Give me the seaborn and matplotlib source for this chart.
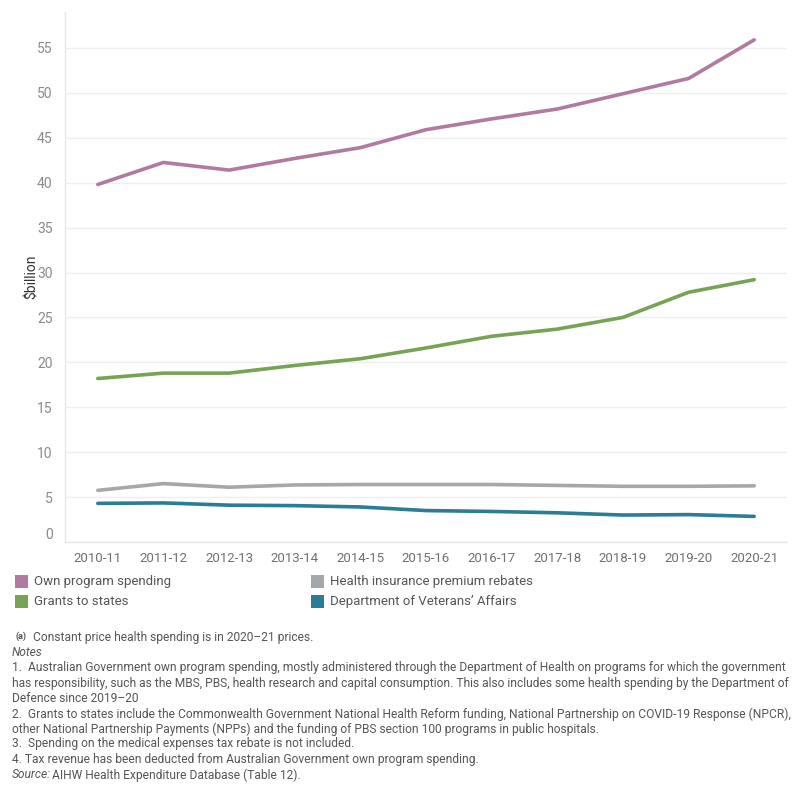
import matplotlib
matplotlib.use("Agg")
import matplotlib.pyplot as plt
from matplotlib.patches import Rectangle
import seaborn as sns
import pandas as pd
import numpy as np

years = ["2010-11", "2011-12", "2012-13", "2013-14", "2014-15", "2015-16",
         "2016-17", "2017-18", "2018-19", "2019-20", "2020-21"]
own_program = [39.8, 42.25, 41.4, 42.7, 43.9, 45.9, 47.1, 48.2, 49.9, 51.6, 55.9]
grants_states = [18.2, 18.8, 18.8, 19.65, 20.4, 21.6, 22.9, 23.7, 25.0, 27.8, 29.2]
health_ins = [5.75, 6.5, 6.1, 6.35, 6.4, 6.4, 6.4, 6.3, 6.2, 6.2, 6.25]
dva = [4.3, 4.35, 4.1, 4.05, 3.9, 3.5, 3.4, 3.25, 3.0, 3.05, 2.85]

series_names = ["Own program spending", "Grants to states",
                "Health insurance premium rebates", "Department of Veterans\u2019 Affairs"]
series_values = [own_program, grants_states, health_ins, dva]
colors = ["#b07aa1", "#78a354", "#a5a8aa", "#2a7d94"]
yticks = list(range(0, 60, 5))

sns.set_theme(style="white")
plt.rcParams['font.family'] = ['Roboto', 'DejaVu Sans']

rows = []
for name, vals in zip(series_names, series_values):
    for i, (yr, v) in enumerate(zip(years, vals)):
        rows.append({"idx": i, "year": yr, "value": v, "series": name})
df = pd.DataFrame(rows)

fig = plt.figure(figsize=(8, 8), dpi=100)
ax = fig.add_axes([65/800, 1 - 542/800, (787-65)/800, (542-12)/800])

sns.lineplot(data=df, x="idx", y="value", hue="series", hue_order=series_names,
             palette=colors, linewidth=2.6, ax=ax, legend=False, sort=False)

ax.set_xlim(-0.5, 10.5)
ax.set_ylim(0, 59)
ax.set_yticks(yticks)
ylabels = ax.set_yticklabels([str(t) for t in yticks], color="#8a8a8a", fontsize=10)
ylabels[0].set_va("bottom")
ax.set_xticks(range(len(years)))
ax.set_xticklabels(years, color="#707070", fontsize=9.5)
ax.set_xticks(np.arange(-0.5, 11, 1), minor=True)
ax.tick_params(axis="x", which="major", length=0, pad=7)
ax.tick_params(axis="x", which="minor", length=6, color="#e6e6e6", width=1)
ax.tick_params(axis="y", length=0, pad=9)
ax.grid(axis="y", color="#efefef", linewidth=1)
ax.set_axisbelow(True)
for s in ["top", "right"]:
    ax.spines[s].set_visible(False)
for s in ["left", "bottom"]:
    ax.spines[s].set_color("#e6e6e6")
    ax.spines[s].set_linewidth(1)
ax.set_xlabel("")
ax.set_ylabel("$billion", fontsize=10, color="#333333")
ax.yaxis.set_label_coords(-0.037, 0.5)

# Legend
leg_pos = [(15, 575), (15, 595), (311, 575), (311, 595)]
for (lx, ly), name, c in zip(leg_pos, series_names, colors):
    fig.add_artist(Rectangle((lx/800, 1 - (ly+13)/800), 13/800, 13/800,
                             transform=fig.transFigure, color=c, lw=0))
    fig.text((lx+19)/800, 1 - (ly+6.5)/800, name, fontsize=9.5, color="#555555",
             va="center", ha="left")

# Notes
tc = "#555555"
fs = 8.65
fig.text(15/800, 1 - 636/800, "(a)", fontsize=6.5, fontweight="bold", color=tc, va="center")
fig.text(33/800, 1 - 638/800, "Constant price health spending is in 2020\u201321 prices.",
         fontsize=fs, color=tc, va="center")
fig.text(12/800, 1 - 653/800, "Notes", fontsize=fs, style="italic", color=tc, va="center")
lines = [
    (668, "1.  Australian Government own program spending, mostly administered through the Department of Health on programs for which the government"),
    (684, "has responsibility, such as the MBS, PBS, health research and capital consumption. This also includes some health spending by the Department of"),
    (699, "Defence since 2019\u201320"),
    (714, "2.  Grants to states include the Commonwealth Government National Health Reform funding, National Partnership on COVID-19 Response (NPCR),"),
    (729, "other National Partnership Payments (NPPs) and the funding of PBS section 100 programs in public hospitals."),
    (744, "3.  Spending on the medical expenses tax rebate is not included."),
    (759, "4. Tax revenue has been deducted from Australian Government own program spending."),
]
for y, t in lines:
    fig.text(12/800, 1 - y/800, t, fontsize=fs, color=tc, va="center")
fig.text(12/800, 1 - 775/800, "Source:", fontsize=fs, style="italic", color=tc, va="center")
fig.text(52/800, 1 - 775/800, "AIHW Health Expenditure Database (Table 12).",
         fontsize=fs, color=tc, va="center")

fig.savefig("out.png", dpi=100)
